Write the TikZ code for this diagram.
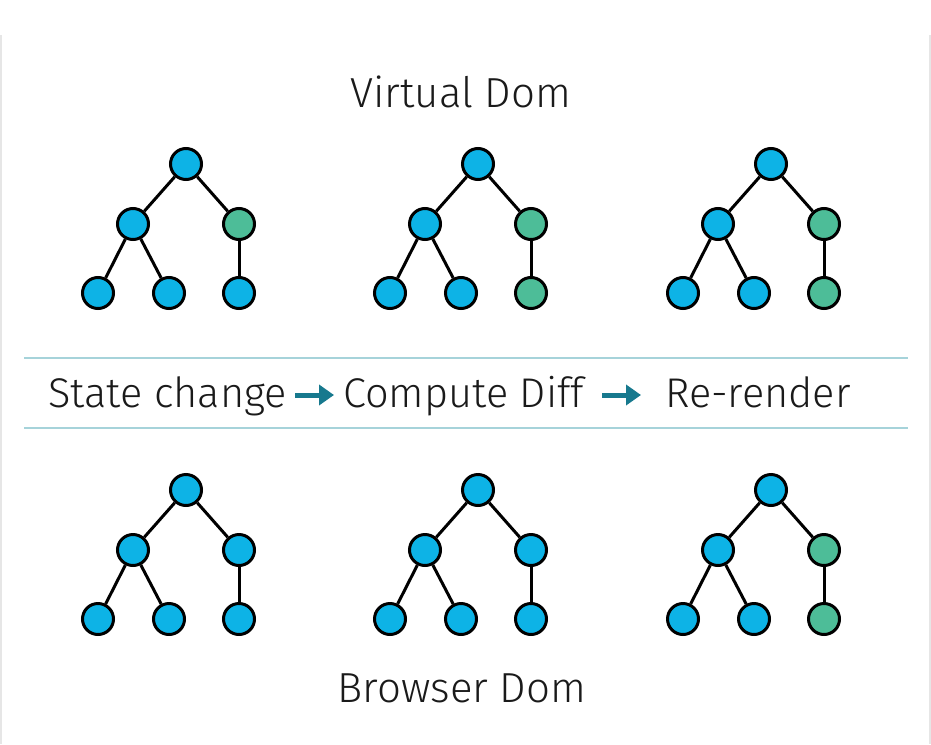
\documentclass[tikz,border=0pt]{standalone}
\usepackage{fontspec}
\setmainfont{Fira Sans Light}
\usetikzlibrary{arrows.meta}
\definecolor{nblue}{HTML}{0DB3E6}
\definecolor{ngreen}{HTML}{4DBD98}
\definecolor{sepline}{HTML}{A6D3DA}
\definecolor{arrteal}{HTML}{17798E}
\definecolor{txt}{HTML}{1A1A1A}
\definecolor{frame}{HTML}{E6E6E6}
\tikzset{
  dot/.style={circle,draw=black,line width=3pt,minimum size=31pt,inner sep=0pt},
  edge/.style={draw=black,line width=3pt},
  lbl/.style={anchor=base west,inner sep=0pt,text=txt,font=\fontsize{41.5}{48}\selectfont},
  title/.style={anchor=base,inner sep=0pt,text=txt,font=\fontsize{42}{48}\selectfont},
  sep/.style={draw=sepline,line width=1.4pt},
  flow/.style={draw=arrteal,line width=5pt,-{Triangle[length=15pt,width=20pt]}},
}
\newcommand{\mytree}[5]{%
  \begin{scope}[shift={(#2,#3)}]
    \node[dot,fill=nblue] (#1r) at (0,0) {};
    \node[dot,fill=nblue] (#1a) at (-53,-60) {};
    \node[dot,fill=#4] (#1b) at (53,-60) {};
    \node[dot,fill=nblue] (#1c) at (-88,-129) {};
    \node[dot,fill=nblue] (#1d) at (-17,-129) {};
    \node[dot,fill=#5] (#1e) at (53,-129) {};
    \draw[edge] (#1r) -- (#1a);
    \draw[edge] (#1r) -- (#1b);
    \draw[edge] (#1a) -- (#1c);
    \draw[edge] (#1a) -- (#1d);
    \draw[edge] (#1b) -- (#1e);
  \end{scope}}
\begin{document}
\begin{tikzpicture}[x=1pt,y=1pt]
\useasboundingbox[fill=white] (0,0) rectangle (931,-744);
\draw[frame,line width=2pt] (1,-35) -- (1,-744);
\draw[frame,line width=2pt] (930,-35) -- (930,-744);
% titles
\node[title] (vt) at (461,-107) {Virtual Dom};
\node[title] (bt) at (462,-702) {Browser Dom};
% trees
\mytree{ta}{186}{-164}{ngreen}{nblue}
\mytree{tb}{478}{-164}{ngreen}{ngreen}
\mytree{tc}{771}{-164}{ngreen}{ngreen}
\mytree{ba}{186}{-490}{nblue}{nblue}
\mytree{bb}{478}{-490}{nblue}{nblue}
\mytree{bc}{771}{-490}{ngreen}{ngreen}
% separators
\coordinate (s1a) at (24,-358); \coordinate (s1b) at (908,-358);
\coordinate (s2a) at (24,-428); \coordinate (s2b) at (908,-428);
\draw[sep] (s1a) -- (s1b);
\draw[sep] (s2a) -- (s2b);
% flow labels
\node[lbl] (st) at (48,-407) {State change};
\node[lbl] (cd) at (343,-407) {Compute Diff};
\node[lbl] (rr) at (665,-407) {Re-render};
\coordinate (a1s) at (295,-395); \coordinate (a1e) at (334,-395);
\coordinate (a2s) at (602,-395); \coordinate (a2e) at (641,-395);
\draw[flow] (a1s) -- (a1e);
\draw[flow] (a2s) -- (a2e);
\end{tikzpicture}
\end{document}
